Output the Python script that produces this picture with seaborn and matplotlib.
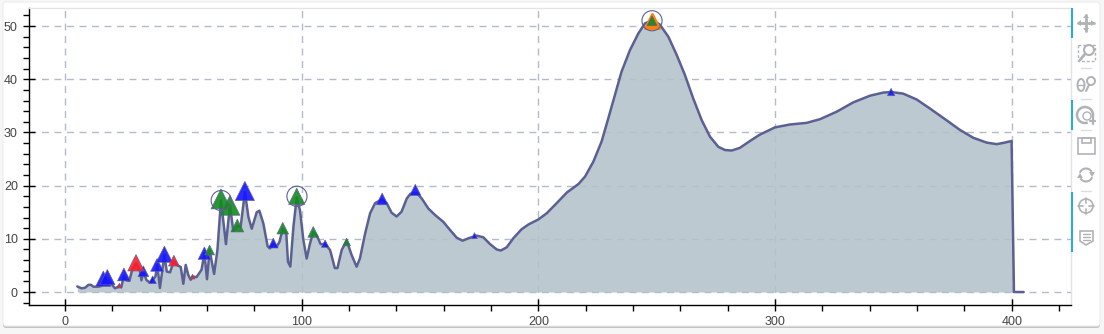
import matplotlib
matplotlib.use("Agg")
import matplotlib.pyplot as plt
from matplotlib.patches import Arc, Circle, Ellipse, FancyBboxPatch, Rectangle, Polygon
from matplotlib.ticker import MultipleLocator
import pandas as pd
import seaborn as sns

# curve
curve_x = [5.2, 7, 8.5, 9.9, 11, 12, 14, 15.2, 16.2, 17.9, 19.3, 21.1, 22.1, 23, 23.8, 24.9, 26, 27.2,
           28.2, 30, 31.7, 32.3, 33.1, 34.5, 35.9, 37, 38.2, 39, 40.1, 42, 43, 44.4, 46, 47.2, 48.9, 50,
           51, 52.1, 53.1, 53.9, 55.6, 57.7, 58.9, 60, 61.1, 63, 64.4, 65.9, 68, 69.7, 71.1, 72.8, 74.2,
           76, 77.5, 78.9, 81, 82.1, 83.8, 85.6, 86.6, 88, 89.4, 90.6, 92, 93.5, 94.2, 95.2, 96.5, 97.9,
           99.3, 100.7, 102.1, 103.5, 104.9, 106.3, 108, 109.9, 112, 114, 115.1, 116.9, 119, 121.1, 123.2,
           124.6, 126.8, 128.9, 131, 133.8, 135.9, 138, 140.1, 142.2, 144.4, 146, 148.6, 150.7, 153.5,
           156.3, 159.8, 162.7, 165.5, 168, 170.4, 173.9, 176.7, 179.6, 182.4, 184.1, 186.6, 189.4, 192.9,
           195.8, 200, 203.5, 207.7, 212, 216.9, 219.7, 223.2, 226.7, 229.5, 232.3, 235.1, 238.7, 242.2,
           245, 248.1, 251.3, 254.9, 258.4, 261.9, 265.4, 269, 272.5, 276, 278.8, 281.6, 285.1, 289.4,
           293.6, 299.9, 306.3, 313.3, 319, 326, 333, 340, 345.7, 349.2, 354.1, 359.8, 365.4, 372.4, 378,
           383.7, 389.3, 393.6, 397.1, 399.9, 400.9, 405]
curve_y = [1.05, 0.7, 0.8, 1.35, 1.35, 1.0, 1.0, 1.1, 2.3, 2.6, 1.7, 0.7, 0.9, 1.2, 0.9, 3.1, 2.2, 2.1,
           3.85, 5.4, 3.9, 2.2, 3.7, 2.2, 1.8, 2.3, 2.9, 5.1, 0.75, 7, 3.85, 3.7, 5.9, 5.1, 4.7, 1.55,
           5.1, 3.2, 2.3, 2.9, 2.8, 4.2, 7.3, 2.4, 7.9, 3.4, 7.9, 17.2, 9, 16.3, 11.5, 12.5, 12.2,
           18.8, 14.1, 11.9, 15, 15.3, 12.9, 8.6, 8.2, 9.1, 8.5, 9.4, 11.9, 11, 5.7, 4.8, 12.2, 17.8,
           15.3, 9.8, 6.3, 9.1, 11.3, 10.7, 9, 9, 7.9, 4.5, 4.5, 7.9, 9.65, 6.95, 4.76,
           6.3, 11, 14.8, 16.7, 17.4, 16.7, 14.9, 14.2, 15.1, 17.6, 18.5, 18.6, 17.6, 15.7,
           14.5, 13.2, 11.65, 10.2, 9.65, 10.1, 10.6, 10.3, 9, 8, 7.8, 8.4, 10.1, 11.8,
           12.7, 13.65, 14.8, 16.7, 18.7, 20.3, 21.7, 24.5, 28.3, 32.6, 37, 41.4, 45.5, 48.6,
           50.5, 51.1, 50.3, 48, 44.6, 40.8, 36.4, 32.3, 29.2, 27.3, 26.7, 26.6, 27.1, 28.4,
           29.6, 30.95, 31.5, 31.8, 32.5, 33.9, 35.65, 36.9, 37.5, 37.6, 37.3, 36.2, 34.5, 32.3, 30.5,
           29, 28.1, 27.8, 28.1, 28.4, 0, 0]

# triangles: position, colour group, size group
peak_x = [16.2, 17.9, 24.9, 33.1, 37, 38.9, 42, 58.9, 76, 88, 109.9, 134, 148, 173, 349,
          23, 30, 46, 53.9,
          65.9, 69.7, 72.8, 61.1, 92, 97.9, 104.9, 119, 248]
peak_y = [2.5, 2.8, 3.3, 3.9, 2.3, 5.1, 7.1, 7.3, 19, 9.2, 9.1, 17.5, 19.2, 10.6, 37.6,
          1.2, 5.5, 5.9, 2.9,
          17.5, 16.3, 12.5, 7.9, 12, 18, 11.3, 9.4, 51]
peak_kind = ["blue"] * 15 + ["red"] * 4 + ["green"] * 9
peak_size = [120, 120, 85, 60, 30, 85, 135, 80, 190, 50, 28, 70, 65, 18, 28,
             12, 140, 60, 12,
             205, 205, 85, 50, 70, 135, 60, 30, 50]
ring_x = [66, 98, 248]
ring_y = [17.2, 18, 51]

x_ticks = [0, 100, 200, 300, 400]
y_ticks = [0, 10, 20, 30, 40, 50]

LINE = "#5b6093"
FILL = "#b3c2ca"
GRID = "#b3bac8"
ICON = "#b0b3b6"
KIND_COLORS = {"blue": "#1414ff", "red": "#ff1a28", "green": "#138a1e"}

sns.set_style("white")
plt.rcParams["font.family"] = ["Liberation Sans", "DejaVu Sans"]

W, H = 1104, 334
fig = plt.figure(figsize=(W / 100, H / 100), dpi=100, facecolor="#f6f6f6")

# page panel and toolbar live in a pixel-space overlay
bg = fig.add_axes([0, 0, 1, 1], zorder=0)
bg.set_xlim(0, W)
bg.set_ylim(H, 0)
bg.axis("off")
bg.add_patch(FancyBboxPatch((3, 4), 1097, 324, boxstyle="round,pad=0,rounding_size=3", fc="#c4c4c4", ec="none"))
bg.add_patch(FancyBboxPatch((3, 2), 1097, 324, boxstyle="round,pad=0,rounding_size=3", fc="white", ec="#ececec", lw=0.8))

ax = fig.add_axes([29 / W, 1 - 305 / H, (1071 - 29) / W, (305 - 8) / H], zorder=1)
ax.patch.set_alpha(0)

ax.fill_between(curve_x, curve_y, 0, color=FILL, alpha=0.88, lw=0, zorder=2)
sns.lineplot(x=curve_x, y=curve_y, sort=False, estimator=None, color=LINE, lw=1.8, ax=ax, zorder=3)

peaks = pd.DataFrame({"x": peak_x, "y": peak_y, "kind": peak_kind, "s": peak_size})
# orange halo under the top peak
top = peaks[peaks["x"] == 248]
ax.scatter(top["x"], top["y"], marker="^", s=105, color="#ff7f0e", edgecolors="#ff7f0e", lw=2, zorder=4)
sns.scatterplot(data=peaks, x="x", y="y", hue="kind", palette=KIND_COLORS, size="s",
                sizes=(min(peak_size), max(peak_size)), size_norm=(min(peak_size), max(peak_size)),
                marker="^", alpha=0.9, edgecolor=LINE, linewidth=0.5, legend=False, ax=ax, zorder=5)
ax.scatter(ring_x, ring_y, marker="o", s=210, facecolors="none", edgecolors=LINE, lw=0.8, zorder=6)

ax.set_xlim(-15.2, 425)
ax.set_ylim(-2.44, 53.4)
ax.set_xlabel("")
ax.set_ylabel("")
ax.set_xticks(x_ticks)
ax.set_yticks(y_ticks)
ax.xaxis.set_minor_locator(MultipleLocator(20))
ax.yaxis.set_minor_locator(MultipleLocator(2))
ax.grid(True, which="major", color=GRID, ls=(0, (5, 4)), lw=1)
ax.set_axisbelow(True)
ax.tick_params(which="major", direction="inout", length=8, width=1, color="black",
               labelsize=9, labelcolor="#444444", left=True, bottom=True, pad=4)
ax.tick_params(which="minor", direction="out", length=4, width=1, color="black", left=True, bottom=True)
ax.spines["left"].set_color("black")
ax.spines["bottom"].set_color("black")
ax.spines["top"].set_color("#e4e4e4")
ax.spines["right"].set_color("#e4e4e4")
for name in ax.spines:
    ax.spines[name].set_linewidth(1)

# toolbar
tb = fig.add_axes([0, 0, 1, 1], zorder=2)
tb.set_xlim(0, W)
tb.set_ylim(H, 0)
tb.axis("off")
tb.patch.set_alpha(0)
for y0, y1 in [(8, 38), (100, 130), (192, 252)]:
    tb.add_patch(Rectangle((1071, y0), 2, y1 - y0, fc="#26aae1", ec="none"))
for y0 in [68, 99, 130, 191]:
    tb.plot([1081, 1091], [y0, y0], color="#dddddd", lw=1)

cx = 1086
# pan
tb.plot([cx - 8, cx + 8], [23, 23], color=ICON, lw=2)
tb.plot([cx, cx], [15, 31], color=ICON, lw=2)
for pts in [[(cx - 9, 23), (cx - 5, 20), (cx - 5, 26)], [(cx + 9, 23), (cx + 5, 20), (cx + 5, 26)],
            [(cx, 14), (cx - 3, 18), (cx + 3, 18)], [(cx, 32), (cx - 3, 28), (cx + 3, 28)]]:
    tb.add_patch(Polygon(pts, fc=ICON, ec="none"))
# box zoom
tb.add_patch(Rectangle((cx - 8, 45), 17, 16, fc="none", ec=ICON, lw=1, ls=(0, (2, 1.5))))
tb.add_patch(Circle((cx + 3, 50), 5, fc="white", ec=ICON, lw=1.5))
tb.plot([cx - 1, cx - 6], [54, 60], color=ICON, lw=2)
# lens zoom
tb.add_patch(Ellipse((cx - 5, 85), 7, 12, fc="none", ec=ICON, lw=1.4))
tb.plot([cx - 8, cx - 2], [85, 85], color=ICON, lw=1)
tb.add_patch(Circle((cx + 5, 81), 4, fc="none", ec=ICON, lw=1.4))
tb.plot([cx + 3, cx + 0], [85, 91], color=ICON, lw=1.5)
# wheel zoom
tb.add_patch(Arc((cx - 1, 115), 16, 16, theta1=70, theta2=380, ec=ICON, lw=1.8))
tb.add_patch(Circle((cx + 1, 116), 4, fc="none", ec=ICON, lw=1))
tb.plot([cx + 4, cx + 9], [121, 121], color=ICON, lw=1.6)
tb.plot([cx + 6.5, cx + 6.5], [118, 124], color=ICON, lw=1.6)
# save
tb.add_patch(Rectangle((cx - 8, 138), 17, 16, fc="none", ec=ICON, lw=1.2))
tb.add_patch(Rectangle((cx - 4, 138), 9, 5, fc="none", ec=ICON, lw=1.2))
# reset
tb.add_patch(Arc((cx, 175), 13, 13, theta1=200, theta2=330, ec=ICON, lw=1.5))
tb.add_patch(Arc((cx, 175), 13, 13, theta1=20, theta2=150, ec=ICON, lw=1.5))
tb.add_patch(Polygon([(cx + 9, 172), (cx + 3, 172), (cx + 6, 177)], fc=ICON, ec="none"))
tb.add_patch(Polygon([(cx - 9, 178), (cx - 3, 178), (cx - 6, 173)], fc=ICON, ec="none"))
# crosshair
tb.add_patch(Circle((cx, 206), 7, fc="none", ec=ICON, lw=1.2))
for x0, y0, x1, y1 in [(cx - 8, 206, cx - 3, 206), (cx + 3, 206, cx + 8, 206),
                       (cx, 198, cx, 203), (cx, 209, cx, 214)]:
    tb.plot([x0, x1], [y0, y1], color=ICON, lw=1.2)
# hover
tb.add_patch(Polygon([(cx - 6, 231), (cx + 7, 231), (cx + 7, 241), (cx, 245), (cx - 6, 241)],
                     fc="none", ec=ICON, lw=1.2))
for y0 in [234, 237, 240]:
    tb.plot([cx - 3, cx + 4], [y0, y0], color=ICON, lw=1)

fig.savefig("out.png", dpi=100, facecolor=fig.get_facecolor())
